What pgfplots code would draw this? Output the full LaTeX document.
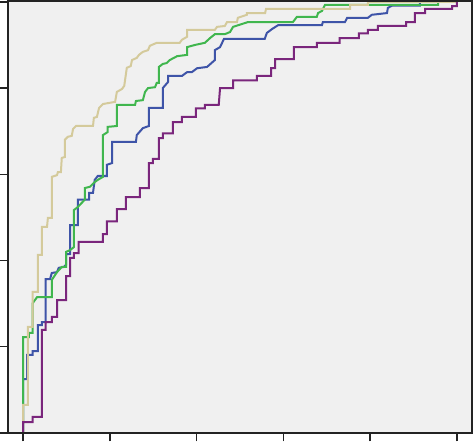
\documentclass[border=0pt]{standalone}
\usepackage{pgfplots}
\pgfplotsset{compat=1.18}
\definecolor{bgc}{RGB}{240,240,240}
\definecolor{beigec}{RGB}{212,202,155}
\definecolor{greenc}{RGB}{64,182,78}
\definecolor{bluec}{RGB}{62,84,168}
\definecolor{purplec}{RGB}{122,38,124}
\definecolor{framec}{RGB}{35,35,35}
\begin{document}
\begin{tikzpicture}
\begin{axis}[
  scale only axis, width=464pt, height=431.9pt,
  xmin=-0.035, xmax=1.035, ymin=0, ymax=1.002,
  axis background/.style={fill=bgc},
  axis line style={framec, line width=2pt},
  xtick={0,0.2,0.4,0.6,0.8,1}, ytick={0,0.2,0.4,0.6,0.8,1},
  xticklabels={}, yticklabels={},
  tick pos=left, tick align=outside, major tick length=8.5pt,
  tick style={framec, line width=1.5pt},
  axis on top,
  every axis plot/.append style={line width=2pt},
]
% blue
\addplot[bluec] coordinates {
(0,0) (0,0.125) (0.009,0.125) (0.009,0.181) (0.022,0.181) (0.022,0.190)
(0.034,0.190) (0.034,0.250) (0.043,0.250) (0.043,0.257) (0.052,0.257)
(0.052,0.357) (0.062,0.357) (0.066,0.371) (0.078,0.373) (0.082,0.383)
(0.094,0.385) (0.099,0.390) (0.099,0.415) (0.108,0.415) (0.108,0.482)
(0.126,0.482) (0.126,0.541) (0.152,0.541) (0.152,0.557) (0.161,0.557)
(0.165,0.587) (0.172,0.596) (0.193,0.596) (0.193,0.622) (0.205,0.626)
(0.205,0.675) (0.260,0.675) (0.262,0.691) (0.276,0.707) (0.290,0.712)
(0.290,0.754) (0.322,0.754) (0.322,0.800) (0.334,0.814) (0.334,0.828)
(0.366,0.828) (0.378,0.837) (0.389,0.837) (0.401,0.846) (0.424,0.849)
(0.442,0.865) (0.442,0.888) (0.454,0.895) (0.463,0.914) (0.557,0.914)
(0.562,0.928) (0.574,0.937) (0.588,0.946) (0.689,0.946) (0.691,0.953)
(0.742,0.953) (0.747,0.963) (0.795,0.963) (0.804,0.970) (0.839,0.974)
(0.841,0.986) (0.850,0.991) (0.915,0.991) (0.915,1) (1,1)
};
% green
\addplot[greenc] coordinates {
(0,0) (0,0.222) (0.013,0.222) (0.013,0.232) (0.022,0.232) (0.022,0.301)
(0.032,0.315) (0.066,0.315) (0.066,0.355) (0.078,0.373) (0.089,0.385)
(0.099,0.385) (0.099,0.420) (0.108,0.424) (0.117,0.431) (0.117,0.517)
(0.126,0.524) (0.142,0.541) (0.142,0.568) (0.154,0.571) (0.165,0.582)
(0.172,0.587) (0.184,0.594) (0.184,0.691) (0.195,0.698) (0.195,0.710)
(0.216,0.712) (0.216,0.761) (0.258,0.761) (0.260,0.770) (0.276,0.772)
(0.281,0.791) (0.288,0.800) (0.304,0.802) (0.308,0.812) (0.313,0.812)
(0.313,0.849) (0.322,0.856) (0.331,0.858) (0.338,0.865) (0.355,0.874)
(0.378,0.877) (0.378,0.895) (0.396,0.900) (0.419,0.905) (0.431,0.916)
(0.442,0.925) (0.465,0.925) (0.477,0.930) (0.484,0.942) (0.518,0.953)
(0.622,0.953) (0.631,0.965) (0.677,0.965) (0.680,0.974) (0.689,0.979)
(0.696,0.993) (0.957,0.993) (0.957,1) (1,1)
};
% beige
\addplot[beigec] coordinates {
(0,0) (0,0.065) (0.011,0.065) (0.011,0.246) (0.022,0.246) (0.022,0.327)
(0.034,0.327) (0.034,0.413) (0.043,0.413) (0.043,0.478) (0.055,0.478)
(0.057,0.499) (0.066,0.499) (0.066,0.594) (0.078,0.598) (0.080,0.605)
(0.087,0.605) (0.089,0.638) (0.096,0.640) (0.096,0.680) (0.103,0.687)
(0.112,0.689) (0.115,0.705) (0.122,0.712) (0.161,0.712) (0.163,0.731)
(0.170,0.733) (0.175,0.754) (0.184,0.763) (0.212,0.768) (0.216,0.791)
(0.228,0.798) (0.233,0.805) (0.239,0.847) (0.248,0.851) (0.251,0.865)
(0.262,0.870) (0.267,0.877) (0.276,0.884) (0.288,0.888) (0.292,0.898)
(0.308,0.905) (0.361,0.905) (0.366,0.912) (0.378,0.919) (0.378,0.935)
(0.442,0.935) (0.447,0.942) (0.465,0.944) (0.470,0.953) (0.493,0.953)
(0.495,0.963) (0.516,0.970) (0.516,0.974) (0.558,0.974) (0.560,0.984)
(0.754,0.984) (0.754,0.993) (0.795,0.993) (0.795,1) (1,1)
};
% purple
\addplot[purplec] coordinates {
(0,0) (0,0.025) (0.022,0.025) (0.022,0.037) (0.043,0.037) (0.043,0.239)
(0.052,0.239) (0.052,0.257) (0.066,0.257) (0.066,0.269) (0.078,0.269)
(0.078,0.308) (0.099,0.308) (0.099,0.364) (0.108,0.364) (0.108,0.406)
(0.117,0.406) (0.117,0.417) (0.128,0.417) (0.128,0.443) (0.184,0.443)
(0.184,0.461) (0.193,0.461) (0.193,0.491) (0.216,0.491) (0.216,0.519)
(0.237,0.519) (0.237,0.547) (0.269,0.547) (0.269,0.568) (0.290,0.568)
(0.290,0.626) (0.299,0.626) (0.299,0.636) (0.313,0.636) (0.313,0.684)
(0.322,0.684) (0.322,0.695) (0.345,0.695) (0.345,0.721) (0.366,0.721)
(0.366,0.733) (0.398,0.733) (0.398,0.753) (0.419,0.753) (0.419,0.761)
(0.451,0.761) (0.454,0.800) (0.484,0.800) (0.484,0.818) (0.539,0.818)
(0.539,0.828) (0.572,0.828) (0.572,0.846) (0.581,0.846) (0.581,0.867)
(0.624,0.867) (0.624,0.895) (0.677,0.895) (0.677,0.905) (0.730,0.905)
(0.730,0.916) (0.774,0.916) (0.774,0.927) (0.795,0.927) (0.795,0.935)
(0.818,0.935) (0.818,0.944) (0.883,0.944) (0.883,0.953) (0.903,0.953)
(0.903,0.974) (0.927,0.974) (0.927,0.984) (0.989,0.984) (0.989,0.990)
(1,0.990) (1,1)
};
\coordinate (ll) at (rel axis cs:0,0);
\coordinate (ur) at (rel axis cs:1,1);
\end{axis}
\pgfresetboundingbox
\path[use as bounding box] ([shift={(-8pt,-9pt)}]ll) rectangle ([shift={(2pt,1pt)}]ur);
\end{tikzpicture}
\end{document}
